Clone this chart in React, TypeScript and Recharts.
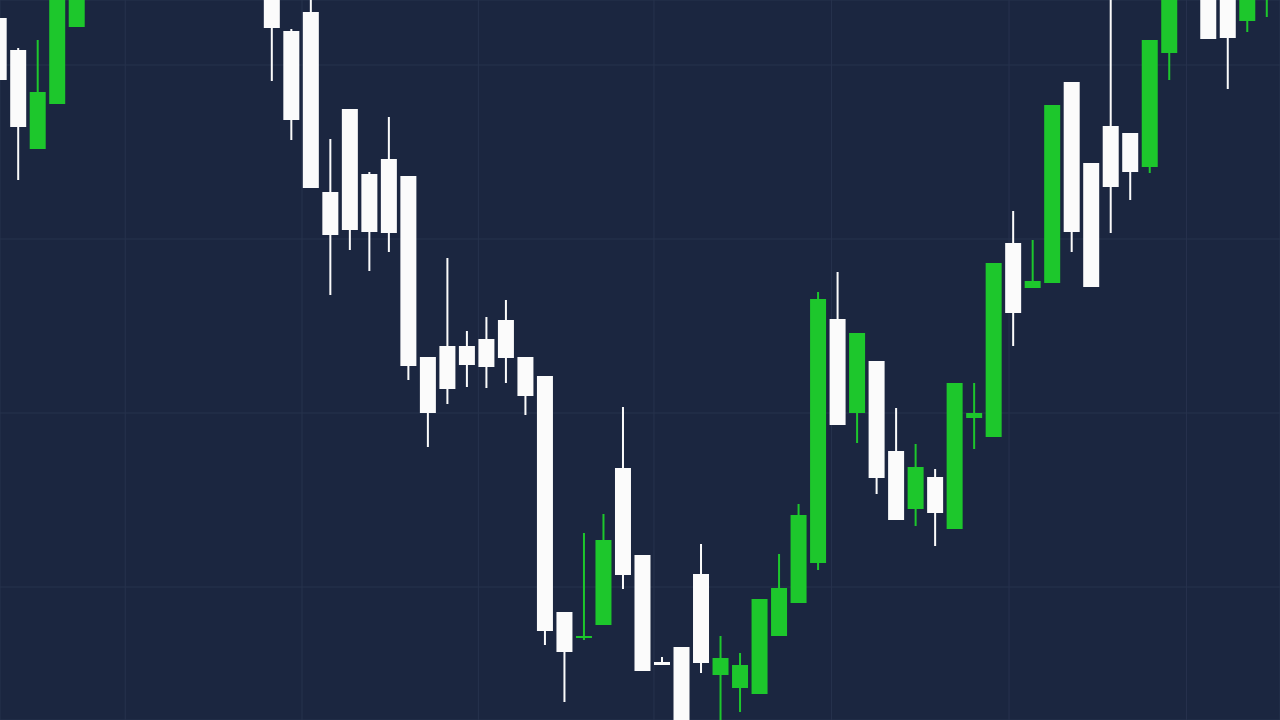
import React from 'react';
import { ComposedChart, Bar, XAxis, YAxis, CartesianGrid } from 'recharts';

// candle slots (index 0..65); null = candle outside the visible price window
const opens: (number | null)[] = [
  802, 770, 671, 716, 793, null, null, null, null, null, null, null, null, null,
  860, 789, 808, 628, 711, 646, 661, 644, 463, 474, 474, 481, 500, 463, 444, 208,
  182, 195, 352, 265, 158, 173, 246, 145, 132, 126, 184, 217, 257, 501, 407, 459,
  369, 311, 343, 291, 402, 383, 577, 532, 537, 738, 657, 694, 687, 653, 767, null,
  860, 850, 799, 825,
];
const closes: (number | null)[] = [
  740, 693, 728, 840, 880, null, null, null, null, null, null, null, null, null,
  792, 700, 632, 585, 590, 588, 587, 454, 407, 431, 455, 453, 462, 424, 189, 168,
  184, 280, 245, 149, 155, 80, 157, 162, 155, 221, 232, 305, 521, 395, 487, 342,
  300, 353, 307, 437, 407, 557, 507, 539, 715, 588, 533, 633, 648, 780, 850, null,
  781, 782, 840, 870,
];
const highs: (number | null)[] = [
  810, 772, 780, 850, 890, null, null, null, null, null, null, null, null, null,
  870, 791, 830, 681, 711, 648, 703, 644, 463, 562, 489, 503, 520, 463, 444, 208,
  287, 306, 413, 265, 163, 173, 276, 184, 167, 221, 266, 316, 528, 548, 487, 459,
  412, 376, 351, 437, 437, 557, 609, 580, 715, 738, 657, 830, 687, 780, 860, null,
  870, 860, 850, 880,
];
const lows: (number | null)[] = [
  735, 640, 671, 716, 793, null, null, null, null, null, null, null, null, null,
  739, 680, 632, 525, 570, 549, 568, 440, 373, 416, 433, 432, 437, 405, 175, 118,
  180, 195, 231, 149, 155, 80, 147, 80, 108, 126, 184, 217, 250, 395, 377, 326,
  300, 294, 274, 291, 371, 383, 474, 532, 537, 568, 533, 587, 620, 647, 740, null,
  781, 731, 788, 803,
];

const priceGridTicks = [233, 407, 581, 755];
const timeGridTicks = [6.5, 15.56, 24.6, 33.6, 42.7, 51.8, 60.9];

const UP = '#1dc72c';
const DOWN = '#fbfbfb';
const BG = '#1b2640';
const GRID = '#27324d';

const rows = opens.map((o, i) => ({
  i,
  open: o,
  close: closes[i],
  high: highs[i],
  low: lows[i],
  range: o == null ? null : [lows[i] as number, highs[i] as number],
}));

const Candle = (props: any) => {
  const { x, y, width, height, payload } = props;
  if (!payload || payload.open == null || height == null) return null;
  const { open, close, high, low } = payload;
  const ratio = height / (high - low);
  const toY = (v: number) => y + (high - v) * ratio;
  const yo = toY(open);
  const yc = toY(close);
  const top = Math.min(yo, yc);
  const bh = Math.max(Math.abs(yc - yo), 2);
  const color = close >= open ? UP : DOWN;
  const cx = x + width / 2;
  return (
    <g>
      <rect x={cx - 1} y={y} width={2} height={height} fill={color} />
      <rect x={x} y={top} width={width} height={bh} fill={color} />
    </g>
  );
};

export default function App() {
  return (
    <div style={{ position: 'absolute', left: 0, top: 0, width: 1280, height: 720, background: BG, overflow: 'hidden' }}>
      <ComposedChart width={1280} height={720} data={rows} margin={{ top: 0, right: 0, bottom: 0, left: 0 }}>
        <CartesianGrid stroke={GRID} strokeWidth={1} />
        <XAxis
          type="number"
          dataKey="i"
          domain={[0.08, 65.69]}
          ticks={timeGridTicks}
          allowDataOverflow
          hide
        />
        <YAxis type="number" domain={[100, 820]} ticks={priceGridTicks} allowDataOverflow hide width={0} />
        <Bar dataKey="range" barSize={16} shape={<Candle />} isAnimationActive={false} />
      </ComposedChart>
    </div>
  );
}
